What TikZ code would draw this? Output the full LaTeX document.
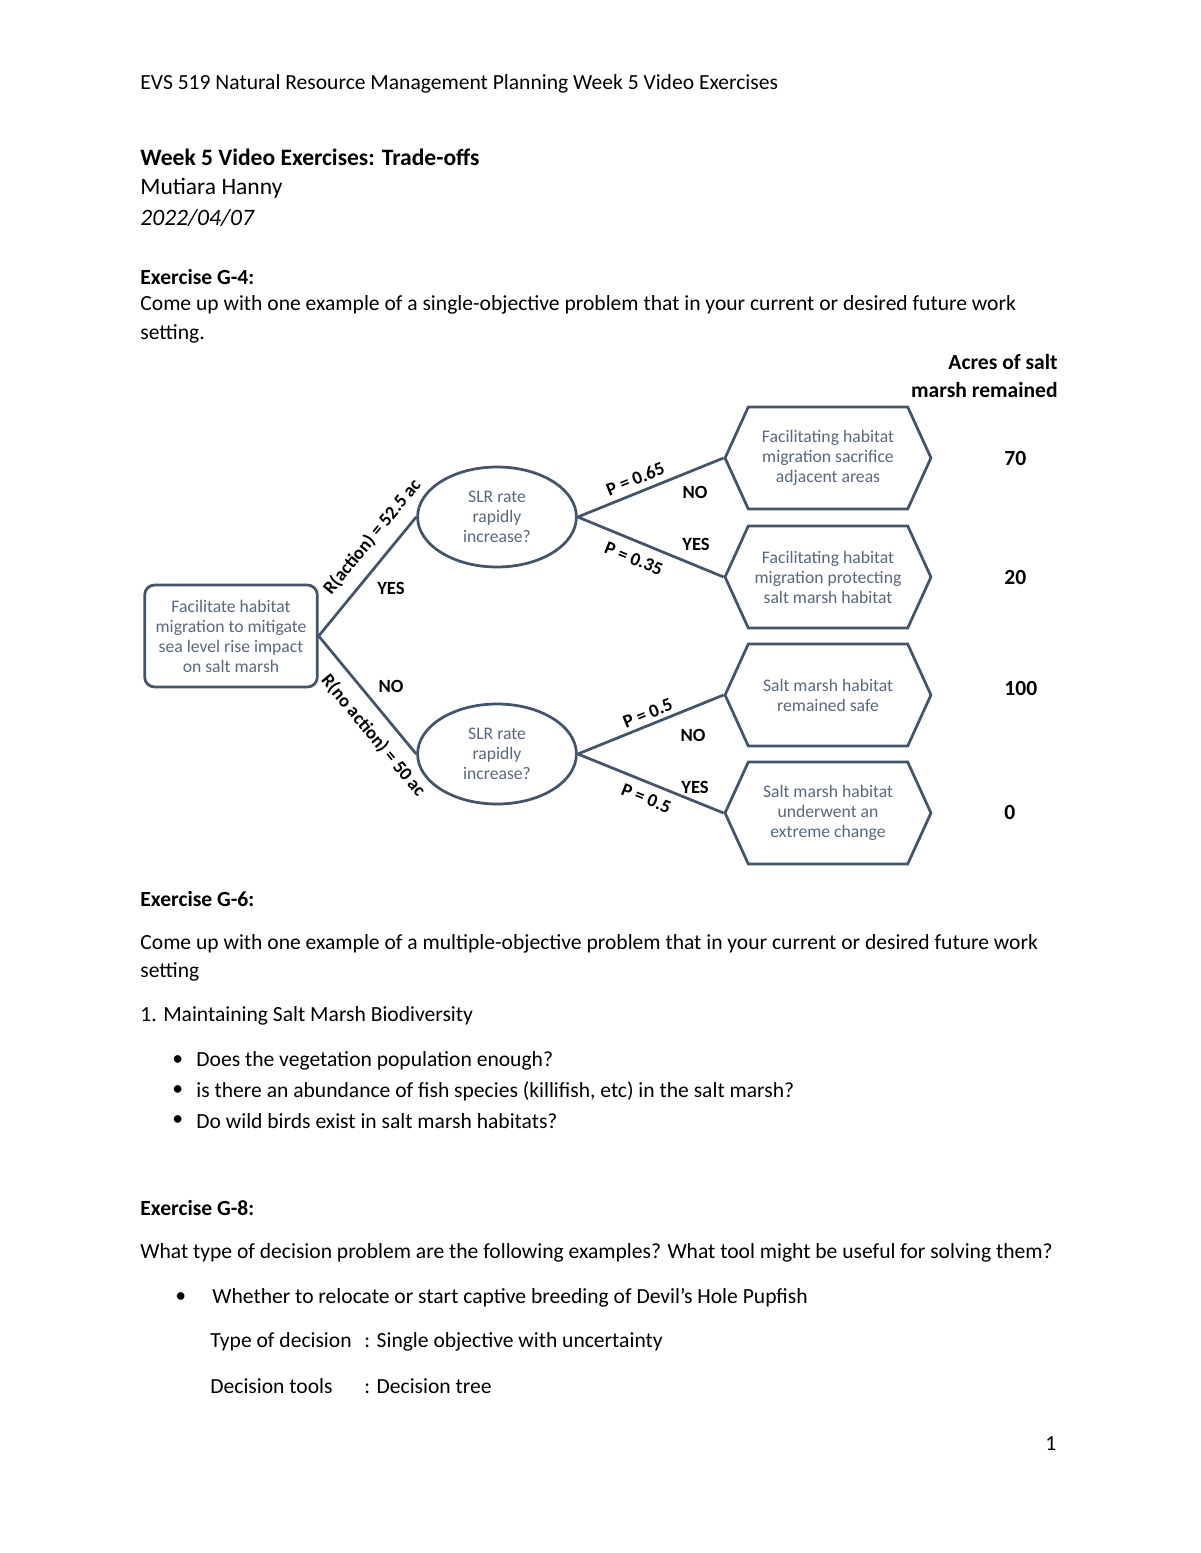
\documentclass[tikz,border=0pt]{standalone}
\usepackage{fontspec}
\setmainfont{Carlito}
\usetikzlibrary{shapes.geometric,shapes.symbols}

\definecolor{slate}{HTML}{44546A}
\definecolor{slatetext}{HTML}{5A687C}

\tikzset{
  txt/.style={anchor=west, inner sep=0pt, font=\fontsize{11}{13}\selectfont},
  hd/.style={txt, font=\bfseries\fontsize{11}{13}\selectfont},
  big/.style={txt, font=\fontsize{12}{14}\selectfont},
  rootbox/.style={draw=slate, line width=1.4pt, rounded corners=5pt,
    minimum width=88pt, minimum height=52pt, align=center, inner sep=1pt,
    text=slatetext, font=\fontsize{9}{10.2}\selectfont},
  chance/.style={ellipse, draw=slate, line width=1.4pt, minimum width=81pt,
    minimum height=51pt, align=center, inner sep=0pt,
    text=slatetext, font=\fontsize{9}{10.2}\selectfont},
  outcome/.style={signal, signal to=east and west, signal pointer angle=131,
    draw=slate, line width=1.4pt, minimum width=105pt, minimum height=52pt,
    align=center, inner sep=1pt, text=slatetext, font=\fontsize{9}{10.2}\selectfont},
  branch/.style={draw=slate, line width=1.4pt},
  lbl/.style={inner sep=0pt, font=\bfseries\fontsize{9.5}{11}\selectfont},
  val/.style={hd, font=\bfseries\fontsize{11}{13}\selectfont},
}

\begin{document}
\begin{tikzpicture}[x=0.51pt, y=-0.51pt]
\fill[white] (0,0) rectangle (1200,1553);
\useasboundingbox (0,0) rectangle (1200,1553);

% page header and title block
\node[txt] (header) at (140,84) {EVS 519 Natural Resource Management Planning Week 5 Video Exercises};
\node[big, font=\bfseries\fontsize{12}{14}\selectfont] (title) at (140,157) {Week 5 Video Exercises: Trade-offs};
\node[big] (name) at (140,188) {Mutiara Hanny};
\node[big, font=\itshape\fontsize{12}{14}\selectfont] (date) at (140,218) {2022/04/07};

% exercise G-4
\node[hd] (g4) at (140,277) {Exercise G-4:};
\node[txt] (g4q) at (140,305) {Come up with one example of a single-objective problem that in your current or desired future work};
\node[txt] (g4q2) at (140,334) {setting.};
\node[hd, anchor=east] (acres) at (1058,362) {Acres of salt};
\node[hd, anchor=east] (acres2) at (1058,390) {marsh remained};

% decision tree
\node[rootbox] (root) at (231,636) {Facilitate habitat\\migration to mitigate\\sea level rise impact\\on salt marsh};
\node[chance] (slr1) at (497,517) {SLR rate\\rapidly\\increase?};
\node[chance] (slr2) at (497,754) {SLR rate\\rapidly\\increase?};
\node[outcome] (out1) at (828,458) {Facilitating habitat\\migration sacrifice\\adjacent areas};
\node[outcome] (out2) at (828,577) {Facilitating habitat\\migration protecting\\salt marsh habitat};
\node[outcome] (out3) at (828,695) {Salt marsh habitat\\remained safe};
\node[outcome] (out4) at (828,813) {Salt marsh habitat\\underwent an\\extreme change};

\draw[branch] (root.east) -- node[lbl, pos=0.72, sloped, above=6pt] {R(action) = 52.5 ac} (slr1.west);
\draw[branch] (root.east) -- node[lbl, pos=0.73, sloped, below=6pt] {R(no action) = 50 ac} (slr2.west);
\draw[branch] (slr1.east) -- node[lbl, pos=0.43, sloped, above=3pt] {P = 0.65} (out1.west);
\draw[branch] (slr1.east) -- node[lbl, pos=0.43, sloped, below=5pt] {P = 0.35} (out2.west);
\draw[branch] (slr2.east) -- node[lbl, pos=0.51, sloped, above=2pt] {P = 0.5} (out3.west);
\draw[branch] (slr2.east) -- node[lbl, pos=0.51, sloped, below=4pt] {P = 0.5} (out4.west);

\node[lbl] (yes1) at (391,588) {YES};
\node[lbl] (no1) at (391,686) {NO};
\node[lbl] (no2) at (695,492) {NO};
\node[lbl] (yes2) at (696,544) {YES};
\node[lbl] (no3) at (693,735) {NO};
\node[lbl] (yes3) at (695,787) {YES};

\node[val] (v1) at (1004,458) {70};
\node[val] (v2) at (1004,577) {20};
\node[val] (v3) at (1004,688) {100};
\node[val] (v4) at (1004,812) {0};

% exercise G-6
\node[hd] (g6) at (140,899) {Exercise G-6:};
\node[txt] (g6q) at (140,944) {Come up with one example of a multiple-objective problem that in your current or desired future work};
\node[txt] (g6q2) at (140,972) {setting};
\node[txt] (g6a) at (140,1016) {1. Maintaining Salt Marsh Biodiversity};
\node[txt] (b1) at (172,1061) {•};
\node[txt] (b1t) at (196,1061) {Does the vegetation population enough?};
\node[txt] (b2) at (172,1091) {•};
\node[txt] (b2t) at (196,1091) {is there an abundance of fish species (killifish, etc) in the salt marsh?};
\node[txt] (b3) at (172,1121) {•};
\node[txt] (b3t) at (196,1121) {Do wild birds exist in salt marsh habitats?};

% exercise G-8
\node[hd] (g8) at (140,1208) {Exercise G-8:};
\node[txt] (g8q) at (140,1253) {What type of decision problem are the following examples? What tool might be useful for solving them?};
\node[txt] (b4) at (175,1298) {•};
\node[txt] (b4t) at (212,1298) {Whether to relocate or start captive breeding of Devil’s Hole Pupfish};
\node[txt] (type) at (210,1342) {Type of decision};
\node[txt] (typea) at (364,1342) {: Single objective with uncertainty};
\node[txt] (tool) at (210,1386) {Decision tools};
\node[txt] (toola) at (364,1386) {: Decision tree};

\node[txt] (page) at (1045,1444) {1};
\end{tikzpicture}
\end{document}
